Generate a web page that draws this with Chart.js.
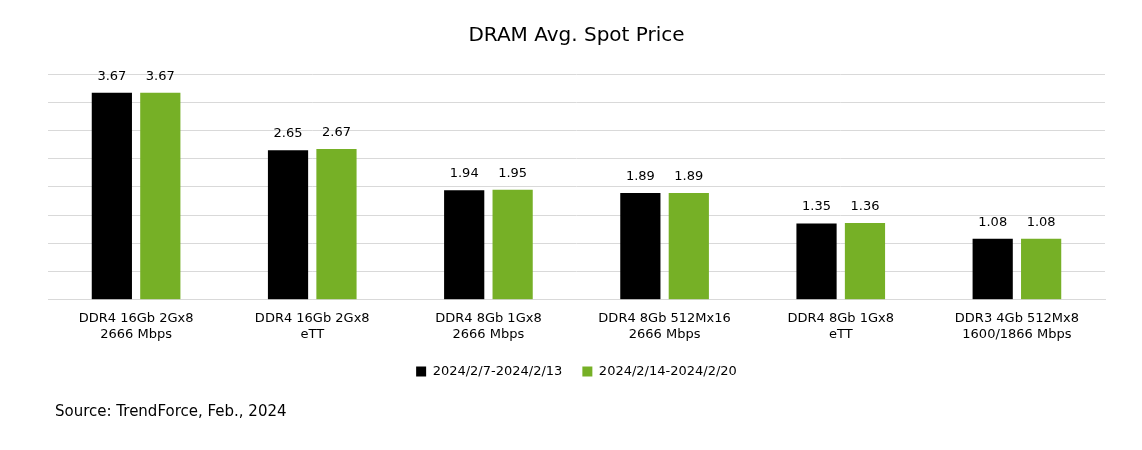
<!DOCTYPE html>
<html>
<head>
<meta charset="utf-8">
<script src="https://cdn.jsdelivr.net/npm/chart.js@4"></script>
<style>
  body { margin: 0; background: #fff; font-family: "DejaVu Sans", Verdana, sans-serif; }
  #wrap { position: relative; width: 1142px; height: 450px; }
  #source { position: absolute; left: 55px; top: 402px; font-size: 15px; color: #000; }
</style>
</head>
<body>
<div id="wrap">
  <canvas id="chart" width="1142" height="450"></canvas>
  <div id="source">Source: TrendForce, Feb., 2024</div>
</div>
<script>
const categories = [
    ['DDR4 16Gb 2Gx8', '2666 Mbps'],
    ['DDR4 16Gb 2Gx8', 'eTT'],
    ['DDR4 8Gb 1Gx8', '2666 Mbps'],
    ['DDR4 8Gb 512Mx16', '2666 Mbps'],
    ['DDR4 8Gb 1Gx8', 'eTT'],
    ['DDR3 4Gb 512Mx8', '1600/1866 Mbps']
];
const seriesNames = ['2024/2/7-2024/2/13', '2024/2/14-2024/2/20'];
const week1 = [3.67, 2.65, 1.94, 1.89, 1.35, 1.08];
const week2 = [3.67, 2.67, 1.95, 1.89, 1.36, 1.08];

// Draw the value above each bar
const valueLabels = {
    id: 'valueLabels',
    afterDatasetsDraw(chart) {
        const ctx = chart.ctx;
        ctx.save();
        ctx.font = '13px "DejaVu Sans", sans-serif';
        ctx.fillStyle = '#000';
        ctx.textAlign = 'center';
        ctx.textBaseline = 'bottom';
        chart.data.datasets.forEach((ds, i) => {
            chart.getDatasetMeta(i).data.forEach((bar, j) => {
                ctx.fillText(ds.data[j].toFixed(2), bar.x, bar.y - 10);
            });
        });
        ctx.restore();
    }
};

new Chart(document.getElementById('chart').getContext('2d'), {
    type: 'bar',
    data: {
        labels: categories,
        datasets: [
            { label: seriesNames[0], data: week1, backgroundColor: '#000000' },
            { label: seriesNames[1], data: week2, backgroundColor: '#76b026' }
        ]
    },
    options: {
        responsive: false,
        animation: false,
        layout: { padding: { left: 48, right: 37, top: 10, bottom: 62 } },
        datasets: { bar: { categoryPercentage: 0.55, barPercentage: 0.83 } },
        scales: {
            x: {
                grid: { display: false },
                border: { color: '#d9d9d9' },
                ticks: { color: '#000', font: { size: 13, family: '"DejaVu Sans", sans-serif' }, maxRotation: 0 }
            },
            y: {
                min: 0, max: 4,
                ticks: { stepSize: 0.5, display: false },
                grid: { color: '#d9d9d9', drawTicks: false },
                border: { display: false }
            }
        },
        plugins: {
            title: {
                display: true, text: 'DRAM Avg. Spot Price', color: '#000',
                font: { size: 20, weight: 'normal', family: '"DejaVu Sans", sans-serif' },
                padding: { top: 14, bottom: 26 }
            },
            legend: {
                position: 'bottom',
                labels: { color: '#000', boxWidth: 10, boxHeight: 10, padding: 20,
                          font: { size: 13, family: '"DejaVu Sans", sans-serif' } }
            },
            tooltip: { enabled: false }
        }
    },
    plugins: [valueLabels]
});
</script>
</body>
</html>
